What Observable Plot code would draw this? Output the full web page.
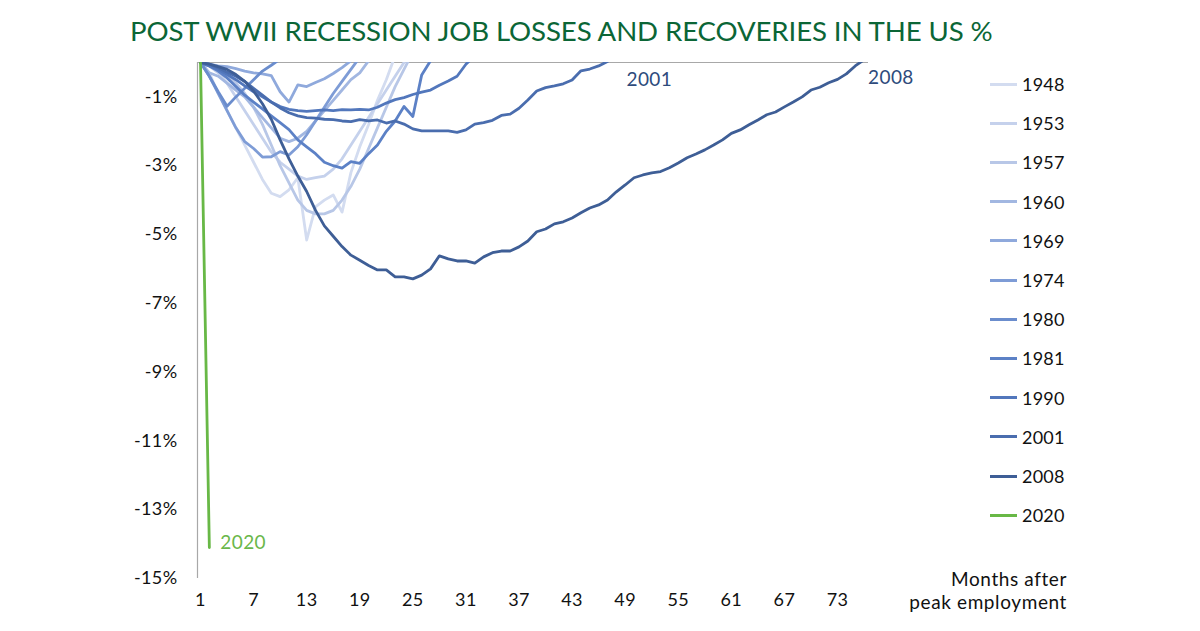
<!DOCTYPE html>
<html>
<head>
<meta charset="utf-8">
<script src="https://cdn.jsdelivr.net/npm/d3@7"></script>
<script src="https://cdn.jsdelivr.net/npm/@observablehq/plot@0.6"></script>
<style>
  body { margin: 0; background: #fff; font-family: Lato, "Open Sans", sans-serif; }
  #wrap { position: relative; width: 1200px; height: 631px; overflow: hidden; }
  #title { position: absolute; left: 130px; top: 14px; font-size: 27.6px; color: #0b6636; white-space: nowrap; letter-spacing: -0.1px; }
  #chart { position: absolute; left: 0; top: 50px; }
  .leg { position: absolute; left: 990px; height: 24px; display: flex; align-items: center; font-size: 18px; color: #111; letter-spacing: 0.2px; }
  .sw { display: inline-block; width: 27px; height: 3px; margin-right: 5px; }
  #xlabel { position: absolute; right: 133px; top: 567px; text-align: right; font-size: 19px; line-height: 23px; color: #111; letter-spacing: 0.6px; }
</style>
</head>
<body>
<div id="wrap">
  <div id="title">POST WWII RECESSION JOB LOSSES AND RECOVERIES IN THE US %</div>
  <div id="chart"></div>
  <div id="legend"></div>
  <div id="xlabel">Months after<br>peak employment</div>
</div>
<script>
// ---- data: % change in payroll employment from peak, month 1 = peak ----
const years = ["1948","1953","1957","1960","1969","1974","1980","1981","1990","2001","2008","2020"];
const colors = ["#d3dcf0","#c5d1ec","#b8c7e7","#a2b7e1","#8fa9dc","#7e9cd6","#6b8dcd","#5c81c6","#5277bc","#4a6dae","#3e5e96","#68b846"];

const s1948 = [0,-0.3,-0.9,-1.4,-1.9,-2.4,-2.9,-3.4,-3.8,-3.9,-3.7,-3.35,-5.16,-4.2,-4.0,-3.85,-4.35,-3.2,-2.45,-1.8,-1.1,-0.5,0.2];
const s1953 = [0,-0.1,-0.3,-0.6,-1.0,-1.4,-1.8,-2.2,-2.6,-2.9,-3.1,-3.3,-3.4,-3.35,-3.3,-3.1,-2.8,-2.4,-2.0,-1.6,-1.2,-0.8,-0.4,0.0,0.3];
const s1957 = [0,-0.1,-0.2,-0.4,-0.6,-0.9,-1.3,-1.8,-2.4,-3.0,-3.5,-4.0,-4.3,-4.4,-4.4,-4.3,-4.0,-3.6,-3.1,-2.5,-1.9,-1.3,-0.7,-0.2,0.3];
const s1960 = [0,-0.3,-0.4,-0.6,-0.8,-1.0,-1.3,-1.6,-1.9,-2.2,-2.3,-2.2,-2.0,-1.7,-1.4,-1.1,-0.8,-0.5,-0.3,0.05];
const s1969 = [0,-0.05,-0.1,-0.12,-0.18,-0.25,-0.3,-0.33,-0.38,-0.85,-1.15,-0.65,-0.7,-0.58,-0.47,-0.32,-0.15,0.05];
const s1974 = [0,-0.4,-0.9,-1.4,-1.9,-2.3,-2.5,-2.75,-2.74,-2.59,-2.69,-2.45,-2.1,-1.7,-1.3,-0.9,-0.55,-0.2,0.15];
const s1980 = [0,-0.4,-0.85,-1.27,-1.0,-0.75,-0.5,-0.25,-0.08,0.1];
const s1981 = [0,-0.1,-0.25,-0.45,-0.7,-0.95,-1.15,-1.35,-1.55,-1.75,-1.95,-2.25,-2.45,-2.65,-2.9,-3.0,-3.07,-2.88,-2.93,-2.65,-2.4,-2.0,-1.7,-1.28,-1.57,-0.36,0.05];
const s1990 = [0,-0.1,-0.2,-0.35,-0.5,-0.68,-0.85,-1.0,-1.15,-1.28,-1.36,-1.4,-1.42,-1.4,-1.38,-1.4,-1.37,-1.38,-1.36,-1.38,-1.3,-1.18,-1.08,-1.02,-0.93,-0.86,-0.8,-0.66,-0.54,-0.4,-0.05,0.2];
const s2001 = [0,-0.05,-0.15,-0.28,-0.4,-0.55,-0.75,-0.95,-1.15,-1.32,-1.46,-1.55,-1.6,-1.62,-1.65,-1.66,-1.7,-1.72,-1.66,-1.7,-1.67,-1.76,-1.7,-1.79,-1.93,-1.99,-1.99,-1.99,-1.99,-2.03,-1.96,-1.79,-1.75,-1.68,-1.54,-1.5,-1.33,-1.09,-0.83,-0.73,-0.68,-0.62,-0.51,-0.24,-0.19,-0.1,0.03];
const s2008 = [0,-0.05,-0.12,-0.2,-0.35,-0.55,-0.83,-1.2,-1.65,-2.25,-2.8,-3.3,-3.75,-4.3,-4.75,-5.05,-5.35,-5.6,-5.75,-5.9,-6.03,-6.03,-6.23,-6.23,-6.29,-6.18,-6.0,-5.62,-5.71,-5.77,-5.77,-5.83,-5.65,-5.53,-5.48,-5.48,-5.36,-5.19,-4.92,-4.84,-4.69,-4.63,-4.52,-4.37,-4.23,-4.14,-4.0,-3.76,-3.56,-3.35,-3.27,-3.21,-3.17,-3.06,-2.92,-2.77,-2.66,-2.54,-2.4,-2.25,-2.06,-1.96,-1.81,-1.67,-1.52,-1.44,-1.29,-1.15,-1.0,-0.8,-0.72,-0.59,-0.49,-0.33,-0.1,0.08];
const s2020 = [0,-14.1];

const seriesList = [s1948,s1953,s1957,s1960,s1969,s1974,s1980,s1981,s1990,s2001,s2008,s2020];
const xTicks = [1,7,13,19,25,31,37,43,49,55,61,67,73];
const yTicks = [-1,-3,-5,-7,-9,-11,-13,-15];
const xDomain = [0.66, 76.5];
const yDomain = [-15, 0];

// long table built from the arrays
const rows = [];
seriesList.forEach((s, k) => s.forEach((v, i) => rows.push({year: years[k], month: i + 1, value: v})));
const lastPoint = y => { const s = seriesList[years.indexOf(y)]; return {year: y, month: s.length, value: s[s.length - 1]}; };

const labelColor = {"2001": "#2e4b7c", "2008": "#2e4b7c", "2020": "#6ab74a"};

const chart = Plot.plot({
  width: 1200,
  height: 581,
  marginTop: 12,
  marginBottom: 53,
  marginLeft: 197,
  marginRight: 332,
  style: {fontFamily: "Lato, 'Open Sans', sans-serif", fontSize: "18px", color: "#111", background: "#fff", letterSpacing: "0.4px"},
  x: {domain: xDomain, ticks: xTicks, tickSize: 0, tickPadding: 15, label: null},
  y: {domain: yDomain, ticks: yTicks, tickSize: 0, tickPadding: 20, tickFormat: d => d + "%", label: null},
  color: {domain: years, range: colors},
  marks: [
    Plot.ruleY([yDomain[1]], {stroke: "#a8a8a8", strokeWidth: 1.2}),
    Plot.ruleX([xDomain[0]], {stroke: "#a8a8a8", strokeWidth: 1.2}),
    Plot.line(rows, {x: "month", y: "value", z: "year", stroke: "year", strokeWidth: 2.8, strokeLinejoin: "round", clip: true}),
    Plot.text([lastPoint("2001")], {x: "month", y: "value", text: "year", fill: labelColor["2001"], textAnchor: "start", dx: 19, dy: 18, fontSize: 19}),
    Plot.text([lastPoint("2008")], {x: "month", y: "value", text: "year", fill: labelColor["2008"], textAnchor: "start", dx: 4, dy: 18, fontSize: 19}),
    Plot.text([lastPoint("2020")], {x: "month", y: "value", text: "year", fill: labelColor["2020"], textAnchor: "start", dx: 11, dy: -5, fontSize: 19})
  ]
});
document.getElementById("chart").appendChild(chart);

// legend
const legend = document.getElementById("legend");
years.forEach((y, i) => {
  const d = document.createElement("div");
  d.className = "leg";
  d.style.top = (84 + i * 39.2 - 12) + "px";
  d.innerHTML = `<span class="sw" style="background:${colors[i]}"></span><span>${y}</span>`;
  legend.appendChild(d);
});
</script>
</body>
</html>
